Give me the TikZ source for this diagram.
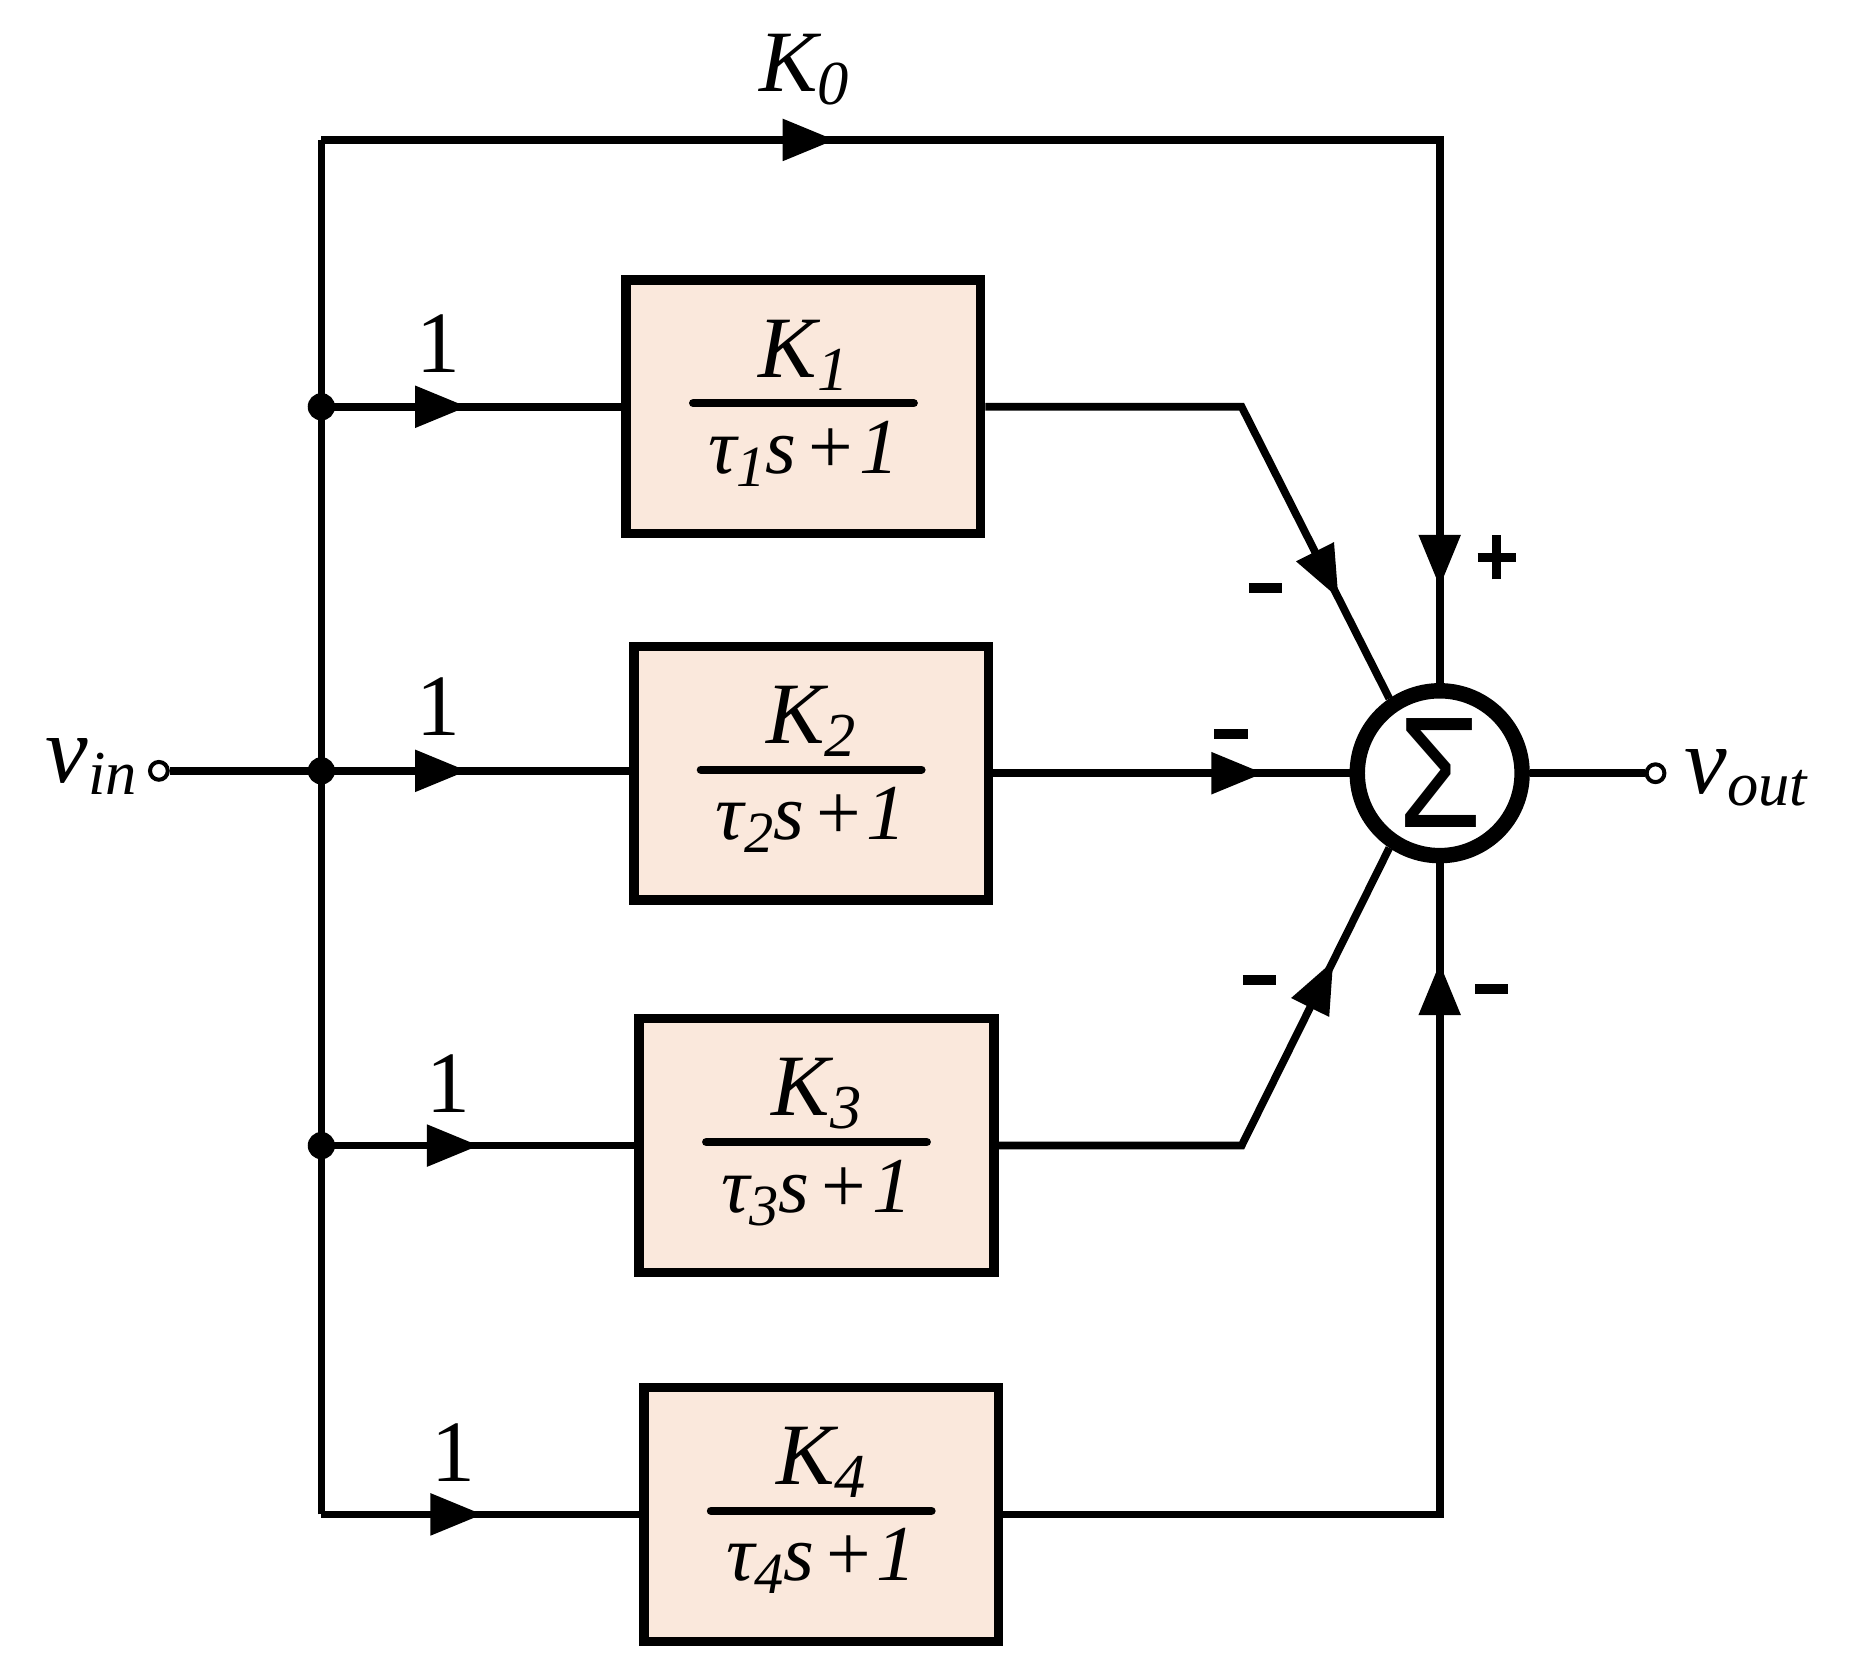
\documentclass[tikz,border=0pt]{standalone}
\usepackage{fontspec}
\setmainfont{Liberation Serif}
\setsansfont{Liberation Sans}
\usetikzlibrary{arrows.meta,decorations.markings,calc}
\definecolor{boxfill}{RGB}{250,232,220}
\newcommand{\lsub}[1]{\raisebox{-1.1mm}{\fontsize{15}{15}\selectfont #1}}
\newcommand{\dsub}[1]{\raisebox{-1.1mm}{\fontsize{14}{14}\selectfont #1}}
\newcommand{\minussign}{\rule{2.8mm}{0.85mm}}
\newcommand{\plussign}{\makebox[0pt]{\rule[1.5mm]{3.2mm}{0.7mm}}\makebox[0pt]{\rule{0.7mm}{3.7mm}}}
\tikzset{
  wire/.style={line width=0.65mm},
  blockbox/.style={draw, line width=0.8mm, fill=boxfill, inner sep=0pt, minimum width=29.9mm, minimum height=21.4mm},
  fracbar/.style={line width=0.7mm, line cap=round},
  lab/.style={inner sep=0pt, font=\fontsize{21}{25}\selectfont},
  denlab/.style={inner sep=0pt, font=\fontsize{19}{23}\selectfont},
  junction/.style={circle, fill=black, inner sep=0pt, minimum size=2.3mm},
  port/.style={circle, draw, fill=white, line width=0.34mm, inner sep=0pt, minimum size=1.5mm},
  sumnode/.style={circle, draw, line width=1.3mm, inner sep=0pt, minimum size=13.9mm},
  sign/.style={inner sep=0pt},
  bdtip/.tip={Triangle[length=4.4mm,width=3.4mm]},
  arrowat/.style={postaction={decorate}, decoration={markings, mark=at position #1 with {\arrow{bdtip}}}},
}
\begin{document}
\begin{tikzpicture}[x=0.1mm,y=-0.1mm]
\useasboundingbox (0,0) rectangle (1560,1404);

% coordinates
\coordinate (tl) at (271,118);
\coordinate (bl) at (271,1277);
\coordinate (tr) at (1214,118);
\coordinate (j1) at (271,343);
\coordinate (j2) at (271,650);
\coordinate (j3) at (271,966);
\coordinate (d1) at (1047,343);
\coordinate (d3) at (1047,966);
\coordinate (br) at (1214,1277);

% blocks
\node[blockbox] (b1) at (677.5,343) {};
\node[blockbox] (b2) at (684,652) {};
\node[blockbox] (b3) at (688.5,966) {};
\node[blockbox] (b4) at (692.5,1277) {};

% summing junction
\node[sumnode] (sum) at (1214,652) {};
\node[inner sep=0pt, font=\sffamily\fontsize{38}{38}\selectfont] (sigma) at (sum) {\scalebox{0.85}[1]{Σ}};

% ports
\node[port] (vin) at (134,650) {};
\node[port] (vout) at (1396,652) {};

% wires
\draw[wire] (bl) -- (tl);
\draw[wire, postaction={decorate}, decoration={markings,
   mark=at position 43.3mm with {\arrow{bdtip}},
   mark=at position 132.0mm with {\arrow{bdtip}}}] (tl) -- (tr) -- (sum);
\draw[wire] (vin) -- (j2);
\draw[wire, arrowat=12.3mm] (j1) -- (b1);
\draw[wire, arrowat=12.3mm] (j2) -- (j2 -| b2.west);
\draw[wire, arrowat=13.3mm] (j3) -- (b3);
\draw[wire, arrowat=13.6mm] (bl) -- (b4);
\draw[wire, arrowat=39.7mm] (b1) -- (d1) -- (sum.124);
\draw[wire, arrowat=22.8mm] (b2) -- (sum);
\draw[wire, arrowat=37.9mm] (b3) -- (d3) -- (sum.236);
\draw[wire, arrowat=83.3mm] (b4) -- (br) -- (sum);
\draw[wire] (sum) -- (vout);

% junction dots
\node[junction] (dot1) at (j1) {};
\node[junction] (dot2) at (j2) {};
\node[junction] (dot3) at (j3) {};

% transfer functions
\foreach \b/\i in {b1/1,b2/2,b3/3,b4/4}{
  \node[lab, anchor=base] (num\i) at ($(\b)+(0,-25)$) {\itshape K\lsub{\i}};
  \draw[fracbar] ($(\b)+(-93,-3)$) -- ($(\b)+(93,-3)$);
  \node[denlab, anchor=base] (den\i) at ($(\b)+(0,56)$) {\itshape τ\dsub{\i}s\hspace{1.0mm}{\upshape +}\hspace{0.5mm}1};
}

% gains on input branches
\node[lab, anchor=base] (g1) at (370,314) {1};
\node[lab, anchor=base] (g2) at (370,620) {1};
\node[lab, anchor=base] (g3) at (378,938) {1};
\node[lab, anchor=base] (g4) at (382,1249) {1};
\node[lab, anchor=base] (k0) at (678,77) {\itshape K\lsub{0}};

% signals
\node[inner sep=0pt, anchor=base east, font=\fontsize{23}{27}\selectfont] (vinlab) at (116,660) {\itshape v\raisebox{-1.0mm}{\fontsize{15}{15}\selectfont in}};
\node[inner sep=0pt, anchor=base west, font=\fontsize{23}{27}\selectfont] (voutlab) at (1420,669) {\itshape v\raisebox{-1.0mm}{\fontsize{15}{15}\selectfont out}};

% signs
\node[sign] (m1) at (1067,496) {\minussign};
\node[sign] (m2) at (1038,619) {\minussign};
\node[sign] (m3) at (1062,826) {\minussign};
\node[sign] (m4) at (1258,834) {\minussign};
\node[sign] (p0) at (1262,470) {\plussign};
\end{tikzpicture}
\end{document}
